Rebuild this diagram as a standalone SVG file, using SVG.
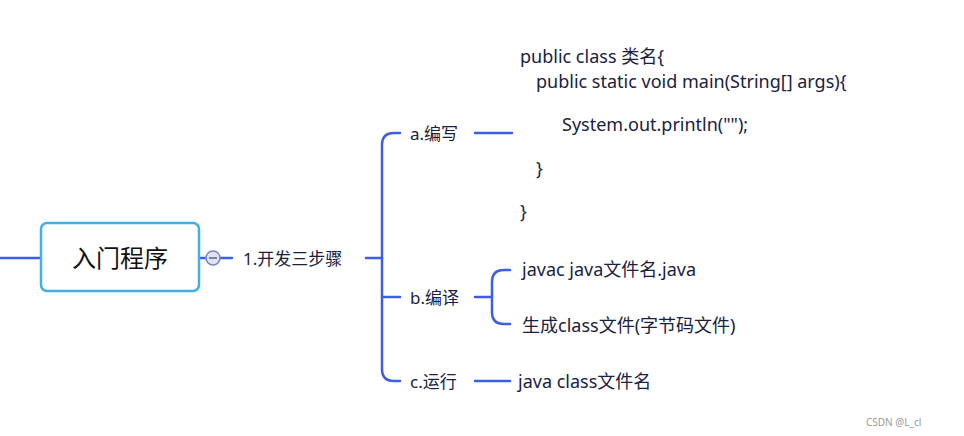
<svg xmlns="http://www.w3.org/2000/svg" width="964" height="436" viewBox="0 0 964 436">
<style>
.c{fill:none;stroke:#3d5ce8;stroke-width:2.5;stroke-linecap:round}
.t{font-family:"Noto Sans","Noto Sans CJK SC",sans-serif;font-size:17px;fill:#1a2140}
.k{font-family:"Noto Sans","Noto Sans CJK SC",sans-serif;font-size:18px;fill:#1a2140}
</style>
<rect width="964" height="436" fill="#fff"/>
<g id="connectors">
<path class="c" d="M0 258H41M199 258H206M220 258H232M366 258H382"/>
<path class="c" d="M400 133H394Q382 133 382 145V369Q382 381 394 381H400M382 297H400"/>
<path class="c" d="M475 133H512M475 297H492M510 270H504Q492 270 492 282V312Q492 324 504 324H510M475 381H510"/>
</g>
<g id="root">
<rect x="41" y="223" width="158" height="68" rx="6" fill="#fff" stroke="#3fb0e8" stroke-width="2.5"/>
<text x="120" y="267" text-anchor="middle" font-family="'Noto Sans CJK SC',sans-serif" font-size="24" fill="#111">入门程序</text>
<circle cx="213" cy="258" r="7" fill="#dfe3f5" stroke="#7a86b8" stroke-width="1.5"/>
<path d="M209 258H217" stroke="#5a6390" stroke-width="1.5"/>
</g>
<g id="step"><text class="t" x="243" y="265">1.开发三步骤</text></g>
<g id="a"><text class="t" x="410" y="140">a.编写</text></g>
<g id="b"><text class="t" x="410" y="304">b.编译</text></g>
<g id="c"><text class="t" x="410" y="388">c.运行</text></g>
<g id="code">
<text class="k" x="520" y="63">public class 类名{</text>
<text class="k" x="536" y="88">public static void main(String[] args){</text>
<text class="k" x="562" y="131">System.out.println("");</text>
<text class="k" x="536" y="175">}</text>
<text class="k" x="520" y="218">}</text>
</g>
<g id="b1"><text class="k" x="522" y="276">javac java文件名.java</text></g>
<g id="b2"><text class="k" x="522" y="332">生成class文件(字节码文件)</text></g>
<g id="c1"><text class="k" x="518" y="388">java class文件名</text></g>
<text x="866" y="426" font-family="'Noto Sans',sans-serif" font-size="10" fill="#999">CSDN @L_cl</text>
</svg>
